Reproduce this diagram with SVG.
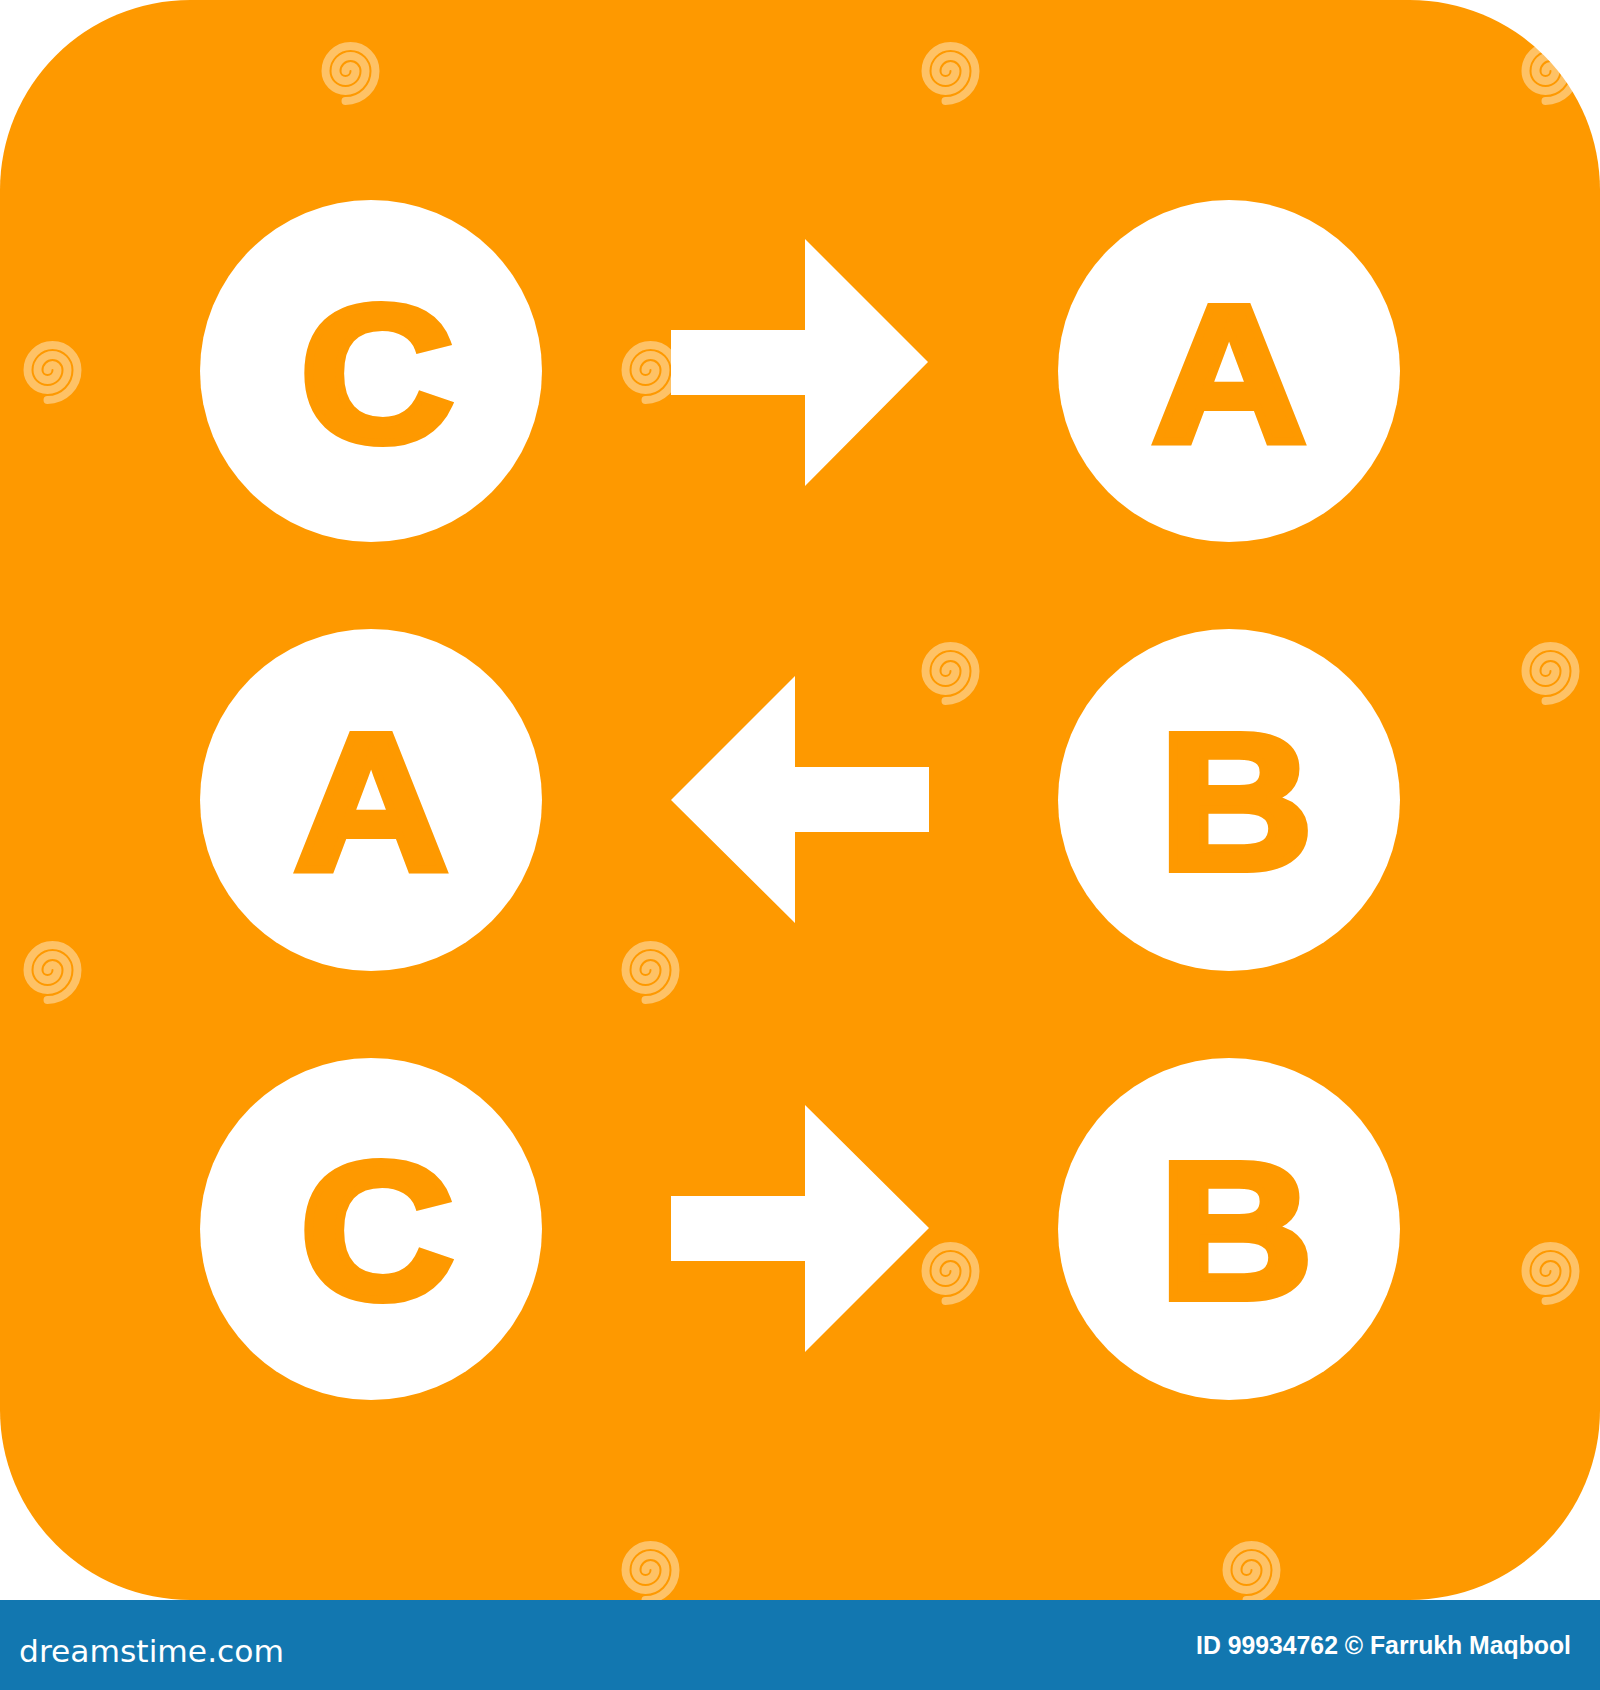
<svg xmlns="http://www.w3.org/2000/svg" width="1600" height="1690" viewBox="0 0 1600 1690">
  <defs>
    <style>
      .node-circle { fill: #ffffff; }
      .letter { fill: #fe9900; stroke: #fe9900; stroke-width: 8px; stroke-linejoin: miter; font-family: "Liberation Sans", Arial, sans-serif; font-weight: bold; font-size: 194px; text-anchor: middle; }
      .arrow { fill: #ffffff; }
      .spiral { fill: none; stroke: #ffffff; stroke-opacity: 0.4; stroke-width: 8; stroke-linecap: round; }
      .footer-left { fill: #ffffff; font-family: "DejaVu Sans", "Liberation Sans", sans-serif; font-size: 30px; }
      .footer-right { fill: #ffffff; font-family: "Liberation Sans Narrow", "Liberation Sans", sans-serif; font-weight: bold; font-size: 25px; }
    </style>
    <path id="spiral" class="spiral" d="M -2.5,0 a5,5 0 0 1 10,0 a10,10 0 0 1 -20,0 a15,15 0 0 1 30,0 a20,20 0 0 1 -40,0 a25,25 0 0 1 50,0 a30,30 0 0 1 -30,30"/>
  </defs>

  <rect x="0" y="0" width="1600" height="1690" fill="#ffffff"/>
  <rect id="panel" x="0" y="0" width="1600" height="1600" rx="190" ry="190" fill="#fe9900"/>

  <g id="watermark-spirals">
    <use href="#spiral" x="348" y="71"/>
    <use href="#spiral" x="948" y="71"/>
    <use href="#spiral" x="1548" y="71"/>
    <use href="#spiral" x="50" y="370"/>
    <use href="#spiral" x="648" y="370"/>
    <use href="#spiral" x="50" y="970"/>
    <use href="#spiral" x="648" y="970"/>
    <use href="#spiral" x="348" y="671"/>
    <use href="#spiral" x="948" y="671"/>
    <use href="#spiral" x="1548" y="671"/>
    <use href="#spiral" x="948" y="1271"/>
    <use href="#spiral" x="1548" y="1271"/>
    <use href="#spiral" x="648" y="1570"/>
    <use href="#spiral" x="1249" y="1570"/>
  </g>

  <g id="connectors">
    <path id="arrow-1" class="arrow" d="M671,330 H805 V239 L928,362 L805,486 V395 H671 Z"/>
    <path id="arrow-2" class="arrow" d="M929,767 H795 V676 L671,800 L795,923 V832 H929 Z"/>
    <path id="arrow-3" class="arrow" d="M671,1196 H805 V1105 L929,1228 L805,1352 V1261 H671 Z"/>
  </g>

  <g id="node-c1">
    <circle class="node-circle" cx="371" cy="371" r="171"/>
    <text class="letter" transform="translate(377,441) scale(1.1,1)">C</text>
  </g>
  <g id="node-a1">
    <circle class="node-circle" cx="1229" cy="371" r="171"/>
    <text class="letter" transform="translate(1229,441) scale(1.1,1)">A</text>
  </g>
  <g id="node-a2">
    <circle class="node-circle" cx="371" cy="800" r="171"/>
    <text class="letter" transform="translate(371,869) scale(1.1,1)">A</text>
  </g>
  <g id="node-b2">
    <circle class="node-circle" cx="1229" cy="800" r="171"/>
    <text class="letter" transform="translate(1236,869) scale(1.1,1)">B</text>
  </g>
  <g id="node-c3">
    <circle class="node-circle" cx="371" cy="1229" r="171"/>
    <text class="letter" transform="translate(377,1298) scale(1.1,1)">C</text>
  </g>
  <g id="node-b3">
    <circle class="node-circle" cx="1229" cy="1229" r="171"/>
    <text class="letter" transform="translate(1236,1298) scale(1.1,1)">B</text>
  </g>

  <g id="footer">
    <rect x="0" y="1600" width="1600" height="90" fill="#1277b0"/>
    <text class="footer-left" x="19" y="1662" textLength="265" lengthAdjust="spacingAndGlyphs">dreamstime.com</text>
    <text class="footer-right" x="1196" y="1654" textLength="375" lengthAdjust="spacingAndGlyphs">ID 99934762 © Farrukh Maqbool</text>
  </g>
</svg>
